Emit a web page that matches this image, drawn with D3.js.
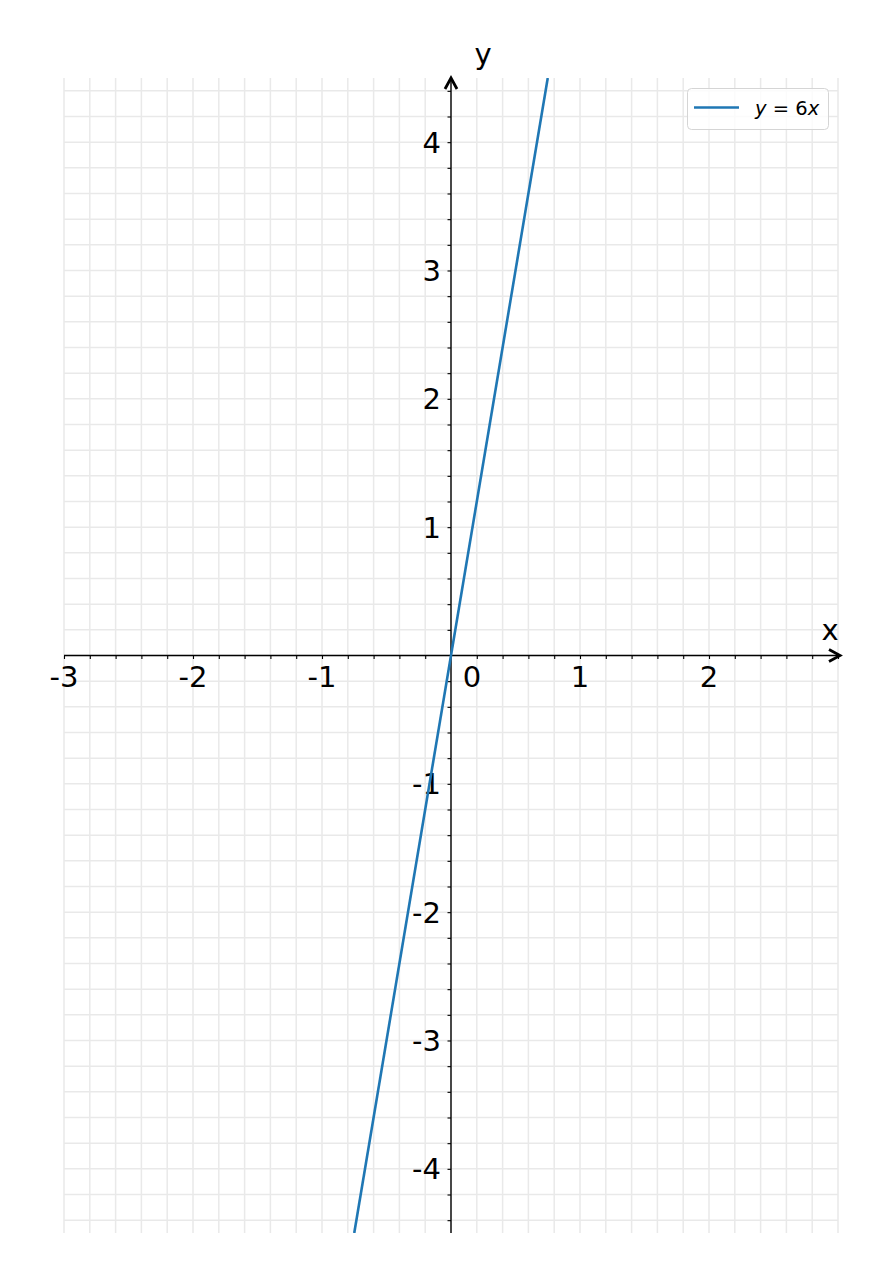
<!DOCTYPE html>
<html>
<head>
<meta charset="utf-8">
<script src="https://cdn.jsdelivr.net/npm/d3@7"></script>
<style>
  html, body { margin: 0; padding: 0; background: #fff; }
  svg { display: block; font-family: "DejaVu Sans", sans-serif; }
</style>
</head>
<body>
<svg id="chart" width="888" height="1283"></svg>
<script>
// data
const xDomain = [-3, 3]
const yDomain = [-4.5, 4.5]
const xTickLabels = [-3, -2, -1, 0, 1, 2]
const yTickLabels = [-4, -3, -2, -1, 1, 2, 3, 4]
const gridStep = 0.2
const lineX = [-0.75, 0.75]
const lineY = [-4.5, 4.5]
const legendLabel = ["y", " = 6", "x"]

const plotLeft = 64, plotRight = 838, plotTop = 78, plotBottom = 1233
const blue = "#1f77b4"

const svg = d3.select("#chart")

const x = d3.scaleLinear().domain(xDomain).range([plotLeft, plotRight])
const y = d3.scaleLinear().domain(yDomain).range([plotBottom, plotTop])

const xGrid = d3.range(xDomain[0], xDomain[1] + 1e-9, gridStep)
const yGrid = d3.range(-4.4, yDomain[1] + 1e-9, gridStep)

// grid
const grid = svg.append("g")
    .attr("stroke", "#e9e9e9")
    .attr("stroke-width", 1.5)
grid.selectAll(".gx").data(xGrid).join("line")
    .attr("x1", d => x(d)).attr("x2", d => x(d))
    .attr("y1", plotTop).attr("y2", plotBottom)
grid.selectAll(".gy").data(yGrid).join("line")
    .attr("y1", d => y(d)).attr("y2", d => y(d))
    .attr("x1", plotLeft).attr("x2", plotRight)

// centred axes
const x0 = x(0), y0 = y(0)

const xAxis = d3.axisBottom(x)
    .tickValues(xGrid.filter(d => Math.abs(d) > 1e-9))
    .tickSize(3.5)
    .tickFormat("")
svg.append("g")
    .attr("transform", `translate(0,${y0})`)
    .call(xAxis)
    .call(g => g.select(".domain").remove())
    .call(g => g.selectAll("line").attr("stroke-width", 1.1))

const yAxis = d3.axisLeft(y)
    .tickValues(yGrid.filter(d => Math.abs(d) > 1e-9))
    .tickSize(3.5)
    .tickFormat("")
svg.append("g")
    .attr("transform", `translate(${x0},0)`)
    .call(yAxis)
    .call(g => g.select(".domain").remove())
    .call(g => g.selectAll("line").attr("stroke-width", 1.1))

// spines
svg.append("line")
    .attr("x1", plotLeft).attr("x2", plotRight + 2)
    .attr("y1", y0).attr("y2", y0)
    .attr("stroke", "#000").attr("stroke-width", 1.4)
svg.append("line")
    .attr("x1", x0).attr("x2", x0)
    .attr("y1", plotBottom).attr("y2", plotTop)
    .attr("stroke", "#000").attr("stroke-width", 1.4)

// arrow heads
const head = 11, half = 6
const arrows = svg.append("g")
    .attr("fill", "none")
    .attr("stroke", "#000")
    .attr("stroke-width", 2.8)
arrows.append("path")
    .attr("d", `M${plotRight + 2 - head},${y0 - half}L${plotRight + 2},${y0}L${plotRight + 2 - head},${y0 + half}`)
arrows.append("path")
    .attr("d", `M${x0 - half},${plotTop + head}L${x0},${plotTop}L${x0 + half},${plotTop + head}`)

// tick labels
const labels = svg.append("g")
    .attr("font-size", 29)
    .attr("fill", "#000")
labels.selectAll(".xl").data(xTickLabels).join("text")
    .attr("x", d => d === 0 ? x(d) + 21 : x(d))
    .attr("y", y0 + 31)
    .attr("text-anchor", "middle")
    .text(d => d)
labels.selectAll(".yl").data(yTickLabels).join("text")
    .attr("x", x0 - 10)
    .attr("y", d => y(d) + 10.5)
    .attr("text-anchor", "end")
    .text(d => d)

// axis names
labels.append("text").attr("x", plotRight - 8).attr("y", y0 - 16)
    .attr("text-anchor", "middle").text("x")
labels.append("text").attr("x", x0 + 32).attr("y", plotTop - 14)
    .attr("text-anchor", "middle").text("y")

// the line, clipped to the plot area
svg.append("clipPath").attr("id", "clip")
    .append("rect")
    .attr("x", plotLeft).attr("y", plotTop)
    .attr("width", plotRight - plotLeft).attr("height", plotBottom - plotTop)

const pts = lineX.map((d, i) => [d, lineY[i]])
svg.append("path")
    .datum(pts)
    .attr("clip-path", "url(#clip)")
    .attr("fill", "none")
    .attr("stroke", blue)
    .attr("stroke-width", 2.6)
    .attr("d", d3.line().x(d => x(d[0])).y(d => y(d[1])))

// legend
const legend = svg.append("g").attr("transform", "translate(687,88)")
legend.append("rect")
    .attr("x", 0.5).attr("y", 0.5)
    .attr("width", 141).attr("height", 41)
    .attr("rx", 4)
    .attr("fill", "#fff").attr("fill-opacity", 0.8)
    .attr("stroke", "#d5d5d5").attr("stroke-width", 1)
legend.append("line")
    .attr("x1", 7).attr("x2", 52)
    .attr("y1", 19.5).attr("y2", 19.5)
    .attr("stroke", blue).attr("stroke-width", 2.6)
const lt = legend.append("text")
    .attr("x", 68).attr("y", 27)
    .attr("font-size", 19.5)
lt.selectAll("tspan").data(legendLabel).join("tspan")
    .attr("font-style", (d, i) => i === 1 ? "normal" : "italic")
    .attr("xml:space", "preserve")
    .text(d => d)
</script>
</body>
</html>
